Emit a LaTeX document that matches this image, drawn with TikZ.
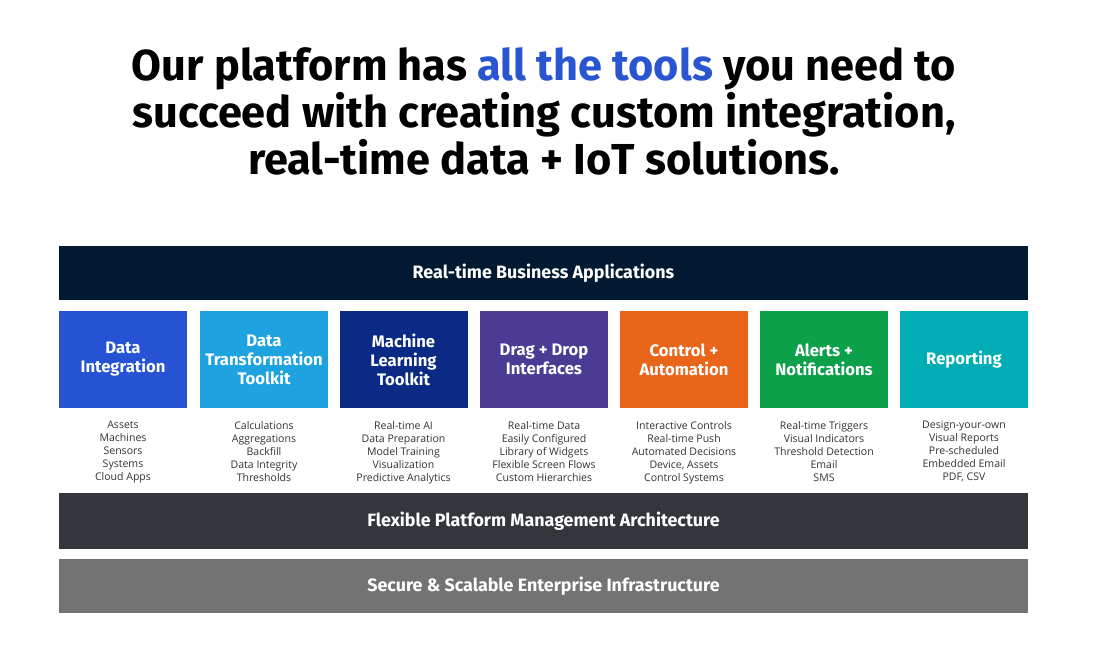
\documentclass[tikz,border=0pt]{standalone}
\usepackage{fontspec}
\setmainfont{Open Sans}
\newfontfamily\headfont{Fira Sans}
\usepackage{xcolor}
\usetikzlibrary{positioning}

\definecolor{navybar}{HTML}{021A31}
\definecolor{titleblue}{HTML}{2A55D0}
\definecolor{diblue}{HTML}{2553D4}
\definecolor{dtblue}{HTML}{1EA3E0}
\definecolor{mlnavy}{HTML}{0B2A85}
\definecolor{ddpurple}{HTML}{4C3B95}
\definecolor{caorange}{HTML}{E8651A}
\definecolor{angreen}{HTML}{0DA04A}
\definecolor{rpteal}{HTML}{00ADB5}
\definecolor{archgray}{HTML}{33363A}
\definecolor{infragray}{HTML}{737373}

\begin{document}
\begin{tikzpicture}[x=0.75pt, y=-0.75pt,
  bar/.style={minimum width=726.75pt, minimum height=40.5pt, inner sep=0pt,
    text=white, font=\headfont\bfseries\fontsize{13.4}{16}\selectfont},
  appbox/.style={minimum width=96pt, minimum height=72.75pt, inner sep=0pt,
    text=white, align=center, font=\headfont\bfseries\fontsize{12.5}{14.25}\selectfont},
  feats/.style={anchor=north, inner sep=0pt, align=center, text=black!80,
    font=\fontsize{7.9}{9.75}\selectfont}]
  % page
  \useasboundingbox[fill=white] (0,0) rectangle (1100,660);
  % headline
  \node[font=\headfont\bfseries\fontsize{32.5}{35.25}\selectfont, align=center] (title) at (544,111)
    {Our platform has \textcolor{titleblue}{all the tools} you need to\\
     succeed with creating custom integration,\\
     real-time data + IoT solutions.};
  % top layer
  \node[bar, fill=navybar] (apps) at (543.5,273) {Real-time Business Applications};
  % tool boxes
  \node[appbox, fill=diblue] (integ) at (123,359.5) {Data\\Integration};
  \node[appbox, fill=dtblue] (transf) at (264,359.5) {Data\\Transformation\\Toolkit};
  \node[appbox, fill=mlnavy] (ml) at (403.5,359.5) {Machine\\Learning\\Toolkit};
  \node[appbox, fill=ddpurple] (drag) at (544,359.5) {Drag + Drop\\Interfaces};
  \node[appbox, fill=caorange] (ctrl) at (684,359.5) {Control +\\Automation};
  \node[appbox, fill=angreen] (alerts) at (824,359.5) {Alerts +\\Notifications};
  \node[appbox, fill=rpteal] (report) at (964,359.5) {Reporting};
  % feature lists
  \node[feats, below=9.5pt of integ] (integl) {Assets\\Machines\\Sensors\\Systems\\Cloud Apps};
  \node[feats, below=9.5pt of transf] (transfl) {Calculations\\Aggregations\\Backfill\\Data Integrity\\Thresholds};
  \node[feats, below=9.5pt of ml] (mll) {Real-time AI\\Data Preparation\\Model Training\\Visualization\\Predictive Analytics};
  \node[feats, below=9.5pt of drag] (dragl) {Real-time Data\\Easily Configured\\Library of Widgets\\Flexible Screen Flows\\Custom Hierarchies};
  \node[feats, below=9.5pt of ctrl] (ctrll) {Interactive Controls\\Real-time Push\\Automated Decisions\\Device, Assets\\Control Systems};
  \node[feats, below=9.5pt of alerts] (alertsl) {Real-time Triggers\\Visual Indicators\\Threshold Detection\\Email\\SMS};
  \node[feats, below=9.5pt of report] (reportl) {Design-your-own\\Visual Reports\\Pre-scheduled\\Embedded Email\\PDF, CSV};
  % lower layers
  \node[bar, fill=archgray, minimum height=42pt] (arch) at (543.5,521) {Flexible Platform Management Architecture};
  \node[bar, fill=infragray] (infra) at (543.5,586) {Secure \& Scalable Enterprise Infrastructure};
\end{tikzpicture}
\end{document}
